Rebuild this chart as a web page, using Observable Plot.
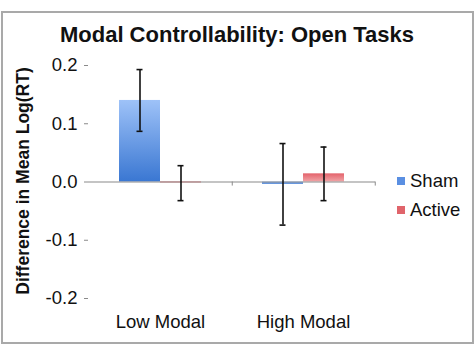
<!DOCTYPE html>
<html>
<head>
<meta charset="utf-8">
<script src="https://cdn.jsdelivr.net/npm/d3@7"></script>
<script src="https://cdn.jsdelivr.net/npm/@observablehq/plot@0.6"></script>
<style>
  html, body { margin: 0; padding: 0; background: #fff; }
  #wrap { position: relative; width: 474px; height: 355px; overflow: hidden; font-family: "Liberation Sans", Arial, sans-serif; }
  #frame { position: absolute; left: 1px; top: 11px; width: 469px; height: 329px; border: 2px solid #a9a9a9; }
  #title { position: absolute; left: 0; width: 474px; top: 22px; text-align: center; font-weight: bold; font-size: 22px; color: #111; }
  #chart { position: absolute; left: 0; top: 0; }
  .leg { position: absolute; font-size: 18.5px; color: #111; display: flex; align-items: center; line-height: 20px; }
  .leg span.sw { display: inline-block; width: 8px; height: 8px; margin-right: 5px; }
</style>
</head>
<body>
<div id="wrap">
  <div id="frame"></div>
  <div id="chart"></div>
  <div id="title">Modal Controllability: Open Tasks</div>
  <div id="legend"></div>
</div>
<script>
const categories = ["Low Modal", "High Modal"];
const series = ["Sham", "Active"];
const shamValues = [0.140, -0.004];
const activeValues = [-0.002, 0.014];
const shamErrors = [0.053, 0.070];
const activeErrors = [0.030, 0.046];
const yTicks = [-0.2, -0.1, 0.0, 0.1, 0.2];

const seriesStyle = {
  Sham: { grad: "url(#gSham)", swatch: "#5a8fe2", side: -1 },
  Active: { grad: "url(#gActive)", swatch: "#e0646b", side: 1 }
};

const rows = [];
categories.forEach((c, i) => {
  rows.push({ category: c, series: "Sham", value: shamValues[i], err: shamErrors[i] });
  rows.push({ category: c, series: "Active", value: activeValues[i], err: activeErrors[i] });
});

const halfBar = 20.5; // half of one bar's width in px
const marks = [];
for (const s of series) {
  const d = rows.filter(r => r.series === s);
  const st = seriesStyle[s];
  marks.push(Plot.barY(d, {
    x: "category", y: "value", fill: st.grad,
    insetLeft: st.side < 0 ? 0 : 2 * halfBar,
    insetRight: st.side < 0 ? 2 * halfBar : 0
  }));
}
// zero line
marks.push(Plot.ruleY([0], { stroke: "#8a8a8a", strokeWidth: 1.2 }));
// category boundary ticks on zero line
marks.push(Plot.ruleX(categories, { x: d => d, dx: 71.75, y1: 0, y2: -0.007, stroke: "#8a8a8a" }));
// error bars
for (const s of series) {
  const d = rows.filter(r => r.series === s);
  const dx = seriesStyle[s].side * halfBar;
  marks.push(Plot.ruleX(d, { x: "category", y1: r => r.value - r.err, y2: r => r.value + r.err, dx, stroke: "#111", strokeWidth: 1.6 }));
  marks.push(Plot.tickY(d, { x: "category", y: r => r.value + r.err, dx, insetLeft: 38, insetRight: 38, stroke: "#111", strokeWidth: 1.6 }));
  marks.push(Plot.tickY(d, { x: "category", y: r => r.value - r.err, dx, insetLeft: 38, insetRight: 38, stroke: "#111", strokeWidth: 1.6 }));
}
const fmt = d3.format(".1f");
marks.push(Plot.axisY({ ticks: yTicks, tickFormat: d => fmt(d).replace("\u2212", "-"), tickSize: 4, tickPadding: 7, fontSize: 18.5, label: null, stroke: "#8a8a8a", color: "#111" }));
marks.push(Plot.ruleX([0], { frameAnchor: "left", y1: -0.2, y2: 0.2, stroke: "#8a8a8a" }));
marks.push(Plot.axisX({ anchor: "bottom", tickSize: 0, tickPadding: 16, fontSize: 18.5, label: null, color: "#111" }));

const chart = Plot.plot({
  width: 474,
  height: 355,
  marginTop: 65,
  marginBottom: 57,
  marginLeft: 88,
  marginRight: 99,
  style: { fontFamily: "'Liberation Sans', Arial, sans-serif", background: "transparent", overflow: "visible" },
  x: { domain: categories, paddingInner: 0.4286, paddingOuter: 0.2143 },
  y: { domain: [-0.2, 0.2] },
  marks
});

const defs = d3.select(chart).insert("defs", ":first-child");
const g1 = defs.append("linearGradient").attr("id", "gSham").attr("x1", 0).attr("y1", 0).attr("x2", 0).attr("y2", 1);
g1.append("stop").attr("offset", "0%").attr("stop-color", "#9ec2f8");
g1.append("stop").attr("offset", "100%").attr("stop-color", "#3a77d2");
const g2 = defs.append("linearGradient").attr("id", "gActive").attr("x1", 0).attr("y1", 0).attr("x2", 0).attr("y2", 1);
g2.append("stop").attr("offset", "0%").attr("stop-color", "#e4626b");
g2.append("stop").attr("offset", "100%").attr("stop-color", "#f0a4a6");

document.getElementById("chart").appendChild(chart);

// y-axis title
d3.select(chart).append("text")
  .attr("transform", "translate(29,181) rotate(-90)")
  .attr("text-anchor", "middle")
  .attr("font-weight", "bold")
  .attr("font-size", 17.5)
  .attr("fill", "#111")
  .text("Difference in Mean Log(RT)");

// legend
const legend = document.getElementById("legend");
series.forEach((s, i) => {
  const el = document.createElement("div");
  el.className = "leg";
  el.style.left = "397px";
  el.style.top = (171 + i * 28.5) + "px";
  el.innerHTML = `<span class="sw" style="background:${seriesStyle[s].swatch}"></span>${s}`;
  legend.appendChild(el);
});
</script>
</body>
</html>
